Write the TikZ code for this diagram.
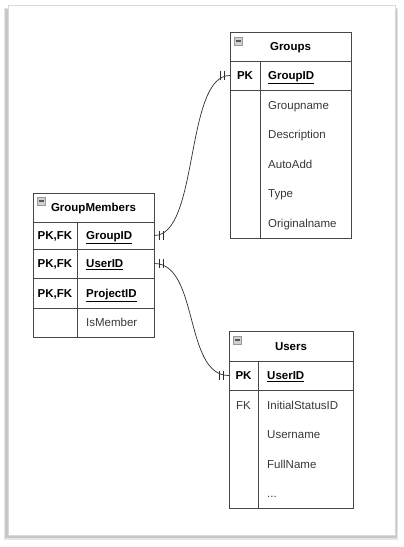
\documentclass[tikz,border=0pt]{standalone}
\usepackage{fontspec}
\setmainfont{Liberation Sans}
\begin{document}
\begin{tikzpicture}[x=1pt,y=-1pt,
  tbl/.style={draw=black!72, line width=0.8pt},
  fld/.style={anchor=base west, text=black!78, font=\fontsize{11.5}{13}\selectfont, inner sep=0pt},
  key/.style={anchor=base west, text=black, font=\fontsize{11.5}{13}\selectfont\bfseries, inner sep=0pt},
  ttl/.style={anchor=base, text=black, font=\fontsize{11.5}{13}\selectfont\bfseries, inner sep=0pt},
  kc/.style={anchor=base, text=black, font=\fontsize{11.5}{13}\selectfont\bfseries, inner sep=0pt},
  kf/.style={anchor=base, text=black!78, font=\fontsize{11.5}{13}\selectfont, inner sep=0pt},
  rowbox/.style={inner sep=0pt, minimum height=29pt},
  icon/.style={fill=black!18, draw=black!40, line width=0.5pt},
  iconbar/.style={draw=black!65, line width=1.3pt},
  conn/.style={draw=black!82, line width=0.7pt},
]
\useasboundingbox (0,0) rectangle (404,547);
% page frame with shadow
\fill[black!10] (4,8) rectangle (398,540);
\fill[black!22] (5,9) rectangle (397,538);
\filldraw[fill=white, draw=black!15, line width=0.5pt] (8,5) rectangle (395,535);

% ---------- Groups ----------
\draw[tbl] (230,32) rectangle (351,238);
\draw[tbl] (230,61) -- (351,61);
\draw[tbl] (230,90) -- (351,90);
\draw[tbl] (260,61) -- (260,238);
\filldraw[icon] (234,37) rectangle (242,45);
\draw[iconbar] (235.5,41) -- (240.5,41);
\node[ttl] (g-title) at (290.5,50.7) {Groups};
\node[rowbox, minimum width=121pt] (g-pk) at (290.5,75.5) {};
\node[kc] (g-pkl) at (245,79.7) {PK};
\node[key] (g-gid) at (268,79.7) {\underline{GroupID}};
\node[fld] (g-f1) at (268,109.0) {Groupname};
\node[fld] (g-f2) at (268,138.6) {Description};
\node[fld] (g-f3) at (268,168.2) {AutoAdd};
\node[fld] (g-f4) at (268,197.8) {Type};
\node[fld] (g-f5) at (268,227.4) {Originalname};

% ---------- GroupMembers ----------
\draw[tbl] (33,193) rectangle (154,337);
\draw[tbl] (33,222) -- (154,222);
\draw[tbl] (33,249) -- (154,249);
\draw[tbl] (33,278) -- (154,278);
\draw[tbl] (33,308) -- (154,308);
\draw[tbl] (77,222) -- (77,337);
\filldraw[icon] (37,197) rectangle (45,205);
\draw[iconbar] (38.5,201) -- (43.5,201);
\node[ttl] (gm-title) at (93.5,211.7) {GroupMembers};
\node[rowbox, minimum width=121pt, minimum height=27pt] (gm-gid) at (93.5,235.5) {};
\node[rowbox, minimum width=121pt] (gm-uid) at (93.5,263.5) {};
\node[kc] (gm-k1) at (55,239.7) {PK,FK};
\node[key] (gm-t1) at (86,239.7) {\underline{GroupID}};
\node[kc] (gm-k2) at (55,267.7) {PK,FK};
\node[key] (gm-t2) at (86,267.7) {\underline{UserID}};
\node[kc] (gm-k3) at (55,297.2) {PK,FK};
\node[key] (gm-t3) at (86,297.2) {\underline{ProjectID}};
\node[fld] (gm-t4) at (86,326.7) {IsMember};

% ---------- Users ----------
\draw[tbl] (229,331) rectangle (353,508);
\draw[tbl] (229,361) -- (353,361);
\draw[tbl] (229,390) -- (353,390);
\draw[tbl] (258,361) -- (258,508);
\filldraw[icon] (233,336) rectangle (241,344);
\draw[iconbar] (234.5,340) -- (239.5,340);
\node[ttl] (u-title) at (291,350.2) {Users};
\node[rowbox, minimum width=124pt] (u-pk) at (291,375.5) {};
\node[kc] (u-pkl) at (243.5,379.7) {PK};
\node[key] (u-uid) at (267,379.7) {\underline{UserID}};
\node[kf] (u-fk) at (243.5,409.0) {FK};
\node[fld] (u-f1) at (267,409.0) {InitialStatusID};
\node[fld] (u-f2) at (267,438.5) {Username};
\node[fld] (u-f3) at (267,468.0) {FullName};
\node[fld] (u-f4) at (267,497.5) {...};

% ---------- connectors ----------
\draw[conn] (gm-gid.east) .. controls +(45,0) and +(-45,0) .. (g-pk.west);
\draw[conn] (gm-uid.east) .. controls +(45,0) and +(-45,0) .. (u-pk.west);
% mandatory-one marks
\draw[conn] ([xshift=5pt]gm-gid.east) ++(0,-4.5) -- ++(0,9);
\draw[conn] ([xshift=9pt]gm-gid.east) ++(0,-4.5) -- ++(0,9);
\draw[conn] ([xshift=5pt]gm-uid.east) ++(0,-4.5) -- ++(0,9);
\draw[conn] ([xshift=9pt]gm-uid.east) ++(0,-4.5) -- ++(0,9);
\draw[conn] ([xshift=-5pt]g-pk.west) ++(0,-4.5) -- ++(0,9);
\draw[conn] ([xshift=-9pt]g-pk.west) ++(0,-4.5) -- ++(0,9);
\draw[conn] ([xshift=-5pt]u-pk.west) ++(0,-4.5) -- ++(0,9);
\draw[conn] ([xshift=-9pt]u-pk.west) ++(0,-4.5) -- ++(0,9);
\end{tikzpicture}
\end{document}
